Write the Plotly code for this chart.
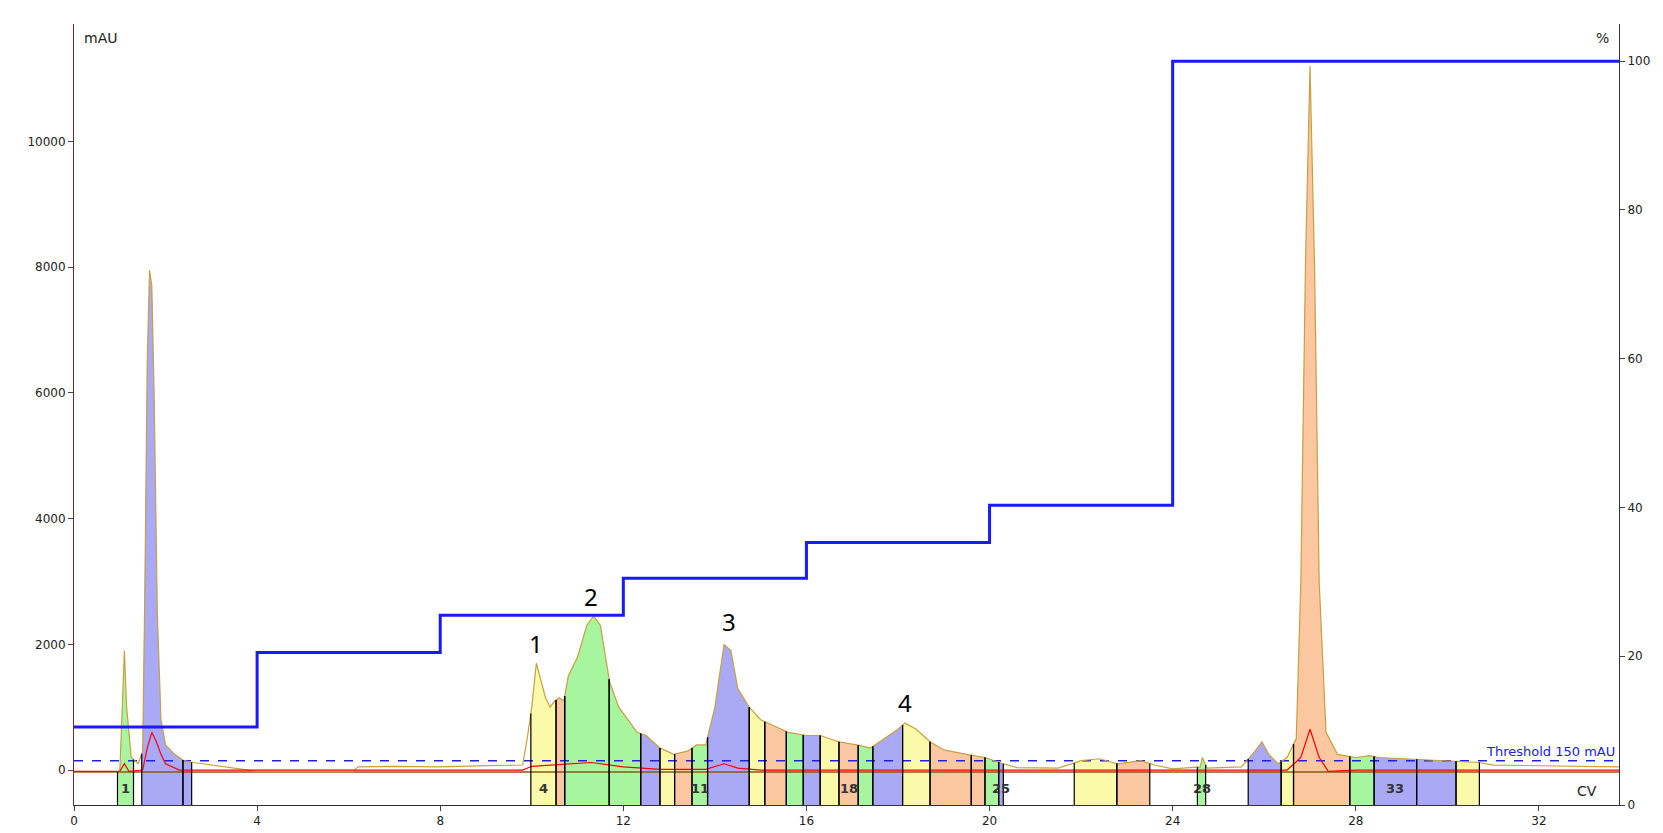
import numpy as np
import plotly.graph_objects as go

uv_x = [0, 0.9, 1.0, 1.05, 1.1, 1.15, 1.25, 1.4, 1.5, 1.55, 1.6, 1.65, 1.7, 1.75, 1.82, 1.9, 2.0, 2.2, 2.4, 2.6, 3.0, 3.5, 4.0, 6.1, 6.2, 7.0, 8.0, 9.0, 9.8,
        9.9, 10.0, 10.1, 10.2, 10.3, 10.4, 10.5, 10.6, 10.7, 10.8, 11.0, 11.2, 11.35, 11.5, 11.7, 11.9, 12.1, 12.3, 12.5, 12.8, 13.1, 13.4, 13.6, 13.8,
        14.0, 14.2, 14.35, 14.5, 14.75, 15.0, 15.3, 15.6, 16.0, 16.3, 16.7, 17.1, 17.4, 17.7, 18.0, 18.15, 18.4, 18.7, 19.0, 19.5, 19.9, 20.3, 20.6,
        21.5, 22.0, 22.4, 22.8, 23.3, 23.6, 24.0, 24.6, 24.65, 24.75, 25.5, 25.8, 25.95, 26.1, 26.3, 26.5, 26.7, 26.8, 26.9, 27.0, 27.1, 27.2, 27.35,
        27.6, 28.0, 28.3, 28.5, 29.0, 30.0, 30.7, 31.0, 33.75]
uv_y = [-30, -30, -30, 900, 1900, 1000, 200, 100, 300, 3000, 6500, 7950, 7700, 6000, 2500, 800, 400, 250, 150, 120, 80, 40, -20, -20, 50, 60, 50, 70, 80,
        500, 1000, 1700, 1400, 1150, 1000, 1100, 1150, 1100, 1500, 1800, 2300, 2450, 2300, 1400, 1000, 800, 600, 550, 350, 250, 300, 400, 400,
        1000, 2000, 1900, 1300, 1000, 800, 700, 600, 550, 550, 450, 400, 350, 500, 650, 750, 650, 450, 320, 250, 200, 100, 40,
        30, 150, 180, 100, 150, 80, 20, 50, 200, 30, 50, 300, 450, 250, 100, 200, 500, 3000, 8000, 11200, 8000, 3000, 600,
        250, 200, 230, 200, 180, 150, 120, 80, 50]

red_x = [0, 1.0, 1.1, 1.2, 1.5, 1.6, 1.7, 1.8, 1.9, 2.0, 2.3, 9.8, 10.0, 10.5, 11.3, 12.0, 12.8, 13.8, 14.2, 14.5, 15.0, 26.5, 26.8, 27.0, 27.2, 27.4, 28.0, 33.75]
red_y = [-20, -20, 100, -20, 0, 350, 600, 450, 250, 100, 0, 0, 60, 80, 120, 50, 10, 10, 100, 30, 0, 0, 200, 650, 200, -20, 0, 0]

grad_x = [0, 4, 4, 8, 8, 12, 12, 16, 16, 20, 20, 24, 24, 33.75]
grad_y = [10.5, 10.5, 20.5, 20.5, 25.5, 25.5, 30.5, 30.5, 35.3, 35.3, 40.3, 40.3, 100, 100]

frac_start = [0.95, 1.48, 2.38, 9.98, 10.53, 10.72, 11.69, 12.38, 12.8, 13.12, 13.5, 13.84, 14.75, 15.09, 15.56, 15.93, 16.3, 16.71, 17.13, 17.45,
              18.1, 18.7, 19.6, 19.9, 20.2, 21.85, 22.78, 24.54, 25.65, 26.37, 26.64, 27.87, 28.4, 29.33, 30.19]
frac_end = [1.30, 2.38, 2.57, 10.53, 10.72, 11.69, 12.38, 12.8, 13.12, 13.5, 13.84, 14.75, 15.09, 15.56, 15.93, 16.3, 16.71, 17.13, 17.45, 18.1,
            18.7, 19.6, 19.9, 20.2, 20.3, 22.78, 23.5, 24.72, 26.37, 26.64, 27.87, 28.4, 29.33, 30.19, 30.7]
frac_color = ["g", "b", "b", "y", "o", "g", "g", "b", "y", "o", "g", "b", "y", "o", "g", "b", "y", "o", "g", "b",
              "y", "o", "o", "g", "b", "y", "o", "g", "b", "y", "o", "g", "b", "b", "y"]
frac_labels = {0: "1", 3: "4", 10: "11", 17: "18", 24: "25", 27: "28", 32: "33"}

peak_x = [10.1, 11.3, 14.3, 18.15]
peak_y = [1700, 2450, 2050, 750]
peak_txt = ["1", "2", "3", "4"]

palette = {"g": "#a8f5a0", "b": "#a9a9f5", "y": "#fafaaa", "o": "#fbc7a0"}
YMIN, YMAX = -556, 11870

fig = go.Figure()
ux = np.array(uv_x, float); uy = np.array(uv_y, float)
shapes = []
for i, (a, b, c) in enumerate(zip(frac_start, frac_end, frac_color)):
    inner = ux[(ux > a) & (ux < b)]
    xs = np.concatenate([[a], inner, [b]])
    ys = np.interp(xs, ux, uy)
    px = np.concatenate([[a], xs, [b]])
    py = np.concatenate([[YMIN], ys, [YMIN]])
    fig.add_trace(go.Scatter(x=px, y=py, fill="toself", fillcolor=palette[c], mode="lines",
                             line=dict(width=0), hoverinfo="skip", showlegend=False))
    for xv in (a, b):
        shapes.append(dict(type="line", x0=xv, x1=xv, y0=YMIN, y1=float(np.interp(xv, ux, uy)),
                           xref="x", yref="y", line=dict(color="black", width=1.2)))
    if i in frac_labels:
        fig.add_annotation(x=(a + b) / 2, y=-300, text="<b>" + frac_labels[i] + "</b>", showarrow=False,
                           font=dict(size=13, color="#333"))

fig.add_trace(go.Scatter(x=[0, 33.75], y=[-30, -30], mode="lines", line=dict(color="#8a5a10", width=1.5), showlegend=False))
fig.add_trace(go.Scatter(x=[0, 33.75], y=[150, 150], mode="lines", line=dict(color="#2020e0", width=1.5, dash="dash"), showlegend=False))
fig.add_trace(go.Scatter(x=uv_x, y=uv_y, mode="lines", line=dict(color="#c8a040", width=1.2), showlegend=False))
fig.add_trace(go.Scatter(x=red_x, y=red_y, mode="lines", line=dict(color="red", width=1.2), showlegend=False))
fig.add_trace(go.Scatter(x=grad_x, y=grad_y, mode="lines", line=dict(color="#1a1aff", width=3), yaxis="y2", showlegend=False))

for px_, py_, t in zip(peak_x, peak_y, peak_txt):
    fig.add_annotation(x=px_, y=py_, text=t, showarrow=False, yshift=20, font=dict(size=24, color="black", family="Noto Sans"))
fig.add_annotation(x=33.7, y=150, text="Threshold 150 mAU", showarrow=False, xanchor="right", yanchor="bottom",
                   font=dict(size=13, color="#2020e0"))
fig.add_annotation(x=0, y=1, xref="paper", yref="paper", text="mAU", showarrow=False, xanchor="left", yanchor="top", xshift=8, yshift=-4,
                   font=dict(size=14, color="#222"))
fig.add_annotation(x=1, y=1, xref="paper", yref="paper", text="%", showarrow=False, xanchor="right", yanchor="top", xshift=-8, yshift=-4,
                   font=dict(size=14, color="#222"))
fig.add_annotation(x=1, y=0, xref="paper", yref="paper", text="CV", showarrow=False, xanchor="right", yanchor="bottom", xshift=-20, yshift=4,
                   font=dict(size=14, color="#222"))

fig.update_layout(
    width=1663, height=833, plot_bgcolor="white", paper_bgcolor="white",
    margin=dict(l=66, r=52, t=16, b=36), shapes=shapes,
    font=dict(family="DejaVu Sans", size=12, color="#222"),
    xaxis=dict(range=[0, 33.75], tickvals=[0, 4, 8, 12, 16, 20, 24, 28, 32], showgrid=False, zeroline=False,
               ticks="outside", showline=True, linecolor="#333"),
    yaxis=dict(range=[YMIN, YMAX], tickvals=[0, 2000, 4000, 6000, 8000, 10000], tickformat="d", showgrid=False, zeroline=False,
               ticks="outside", showline=True, linecolor="#6a3030"),
    yaxis2=dict(range=[0, 105], overlaying="y", side="right", tickvals=[0, 20, 40, 60, 80, 100], showgrid=False,
                zeroline=False, ticks="outside", showline=True, linecolor="#333"),
)
fig.write_html("out.html")
